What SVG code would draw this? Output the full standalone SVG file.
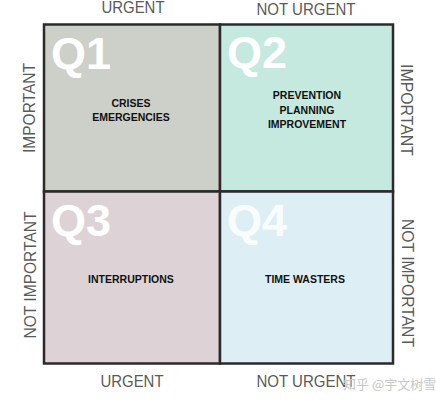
<svg xmlns="http://www.w3.org/2000/svg" width="436" height="408" viewBox="0 0 436 408">
<style>
.axis{font-family:"Liberation Sans",Arial,sans-serif;font-size:17px;fill:#5a5a5a;text-anchor:middle}
.q{font-family:"Liberation Sans",Arial,sans-serif;font-size:45px;font-weight:bold;fill:#fff}
.lbl{font-family:"Liberation Sans",Arial,sans-serif;font-size:10.5px;font-weight:bold;fill:#111;text-anchor:middle}
.cell{stroke:#2a2a2a;stroke-width:2.5}
.wm{font-family:"Noto Sans CJK SC","Liberation Sans",sans-serif;font-size:13px;fill:#c8c8c8}
</style>
<rect width="436" height="408" fill="#fff"/>
<g id="q1">
<rect class="cell" x="44" y="24.5" width="176" height="167" fill="#cdcfc9"/>
<text class="q" x="51" y="69">Q1</text>
<text class="lbl" x="131" y="107">CRISES</text>
<text class="lbl" x="131" y="121">EMERGENCIES</text>
</g>
<g id="q2">
<rect class="cell" x="220" y="24.5" width="173" height="167" fill="#c5e8df"/>
<text class="q" x="227" y="68">Q2</text>
<text class="lbl" x="307" y="99">PREVENTION</text>
<text class="lbl" x="307" y="113.5">PLANNING</text>
<text class="lbl" x="307" y="128">IMPROVEMENT</text>
</g>
<g id="q3">
<rect class="cell" x="44" y="191.5" width="176" height="172" fill="#ddd3d6"/>
<text class="q" x="51" y="236">Q3</text>
<text class="lbl" x="131" y="282.5">INTERRUPTIONS</text>
</g>
<g id="q4">
<rect class="cell" x="220" y="191.5" width="173" height="172" fill="#ddeff4"/>
<text class="q" x="227" y="236" fill-opacity="0.85">Q4</text>
<text class="lbl" x="305" y="282.5">TIME WASTERS</text>
</g>
<g id="axis-labels">
<text class="axis" x="133" y="13" textLength="63" lengthAdjust="spacingAndGlyphs">URGENT</text>
<text class="axis" x="306" y="15" textLength="99" lengthAdjust="spacingAndGlyphs">NOT URGENT</text>
<text class="axis" x="132" y="387" textLength="63" lengthAdjust="spacingAndGlyphs">URGENT</text>
<text class="axis" x="306" y="387" textLength="99" lengthAdjust="spacingAndGlyphs">NOT URGENT</text>
<text class="axis" transform="translate(35,108) rotate(-90)" textLength="90" lengthAdjust="spacingAndGlyphs">IMPORTANT</text>
<text class="axis" transform="translate(36,275) rotate(-90)" textLength="127" lengthAdjust="spacingAndGlyphs">NOT IMPORTANT</text>
<text class="axis" transform="translate(401,110) rotate(90)" textLength="92" lengthAdjust="spacingAndGlyphs">IMPORTANT</text>
<text class="axis" transform="translate(402,283) rotate(90)" textLength="128" lengthAdjust="spacingAndGlyphs">NOT IMPORTANT</text>
</g>
<text class="wm" x="343" y="389">知乎 @宇文树雪</text>
</svg>
